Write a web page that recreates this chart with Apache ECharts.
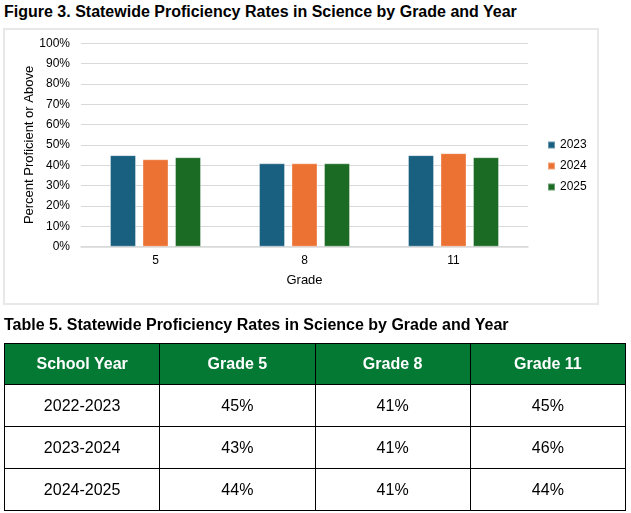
<!DOCTYPE html>
<html>
<head>
<meta charset="utf-8">
<script src="https://cdn.jsdelivr.net/npm/echarts@6/dist/echarts.min.js"></script>
<style>
  html, body { margin: 0; padding: 0; background: #fff; }
  body { width: 631px; height: 513px; position: relative; overflow: hidden; font-family: "Liberation Sans", Arial, sans-serif; }
  .title { position: absolute; left: 4px; font-weight: bold; font-size: 16px; line-height: 20px; color: #000; white-space: nowrap; }
  #box { position: absolute; left: 3px; top: 28px; width: 592px; height: 273px; border: 2px solid #e8e8e8; }
  #chart { position: absolute; left: 0; top: 0; width: 631px; height: 513px; }
  table { position: absolute; left: 4px; top: 343px; width: 622px; border-collapse: collapse; table-layout: fixed; }
  td, th { border: 1.5px solid #000; text-align: center; font-size: 16px; padding: 0; }
  th { background: #037934; color: #fff; font-weight: bold; height: 40px; }
  td { color: #000; height: 41px; }
</style>
</head>
<body>
<div class="title" style="top:2px">Figure 3. Statewide Proficiency Rates in Science by Grade and Year</div>
<div id="box"></div>
<div id="chart"></div>
<div class="title" style="top:315px">Table 5. Statewide Proficiency Rates in Science by Grade and Year</div>
<table id="tbl"></table>
<script>
// ---- data ----
const grades = ['5', '8', '11'];
const years = ['2023', '2024', '2025'];
const values2023 = [45, 41, 45];
const values2024 = [43, 41, 46];
const values2025 = [44, 41, 44];
const schoolYears = ['2022-2023', '2023-2024', '2024-2025'];
const tableHeaders = ['School Year', 'Grade 5', 'Grade 8', 'Grade 11'];
const yAxisName = 'Percent Proficient or Above';
const xAxisName = 'Grade';

const seriesValues = [values2023, values2024, values2025];
const colors = ['#185f80', '#ec7233', '#1b6b25'];

const chart = echarts.init(document.getElementById('chart'), null, { renderer: 'canvas' });
const font = '"Liberation Sans", Arial, sans-serif';
chart.setOption({
  animation: false,
  backgroundColor: 'transparent',
  textStyle: { fontFamily: font },
  grid: { left: 81, right: 103, top: 43.3, bottom: 266.3, containLabel: false },
  legend: {
    orient: 'vertical', left: 547, top: 138, padding: 0,
    itemWidth: 7, itemHeight: 7, itemGap: 7,
    icon: 'rect',
    data: years,
    textStyle: { fontFamily: font, fontSize: 12, color: '#000', lineHeight: 14 }
  },
  xAxis: {
    type: 'category', data: grades,
    name: xAxisName, nameLocation: 'middle', nameGap: 27, nameMoveOverlap: false,
    nameTextStyle: { fontFamily: font, fontSize: 13, color: '#000' },
    axisLine: { lineStyle: { color: '#d9d9d9', width: 1.5 } },
    axisTick: { show: false },
    axisLabel: { fontFamily: font, fontSize: 12, color: '#000', margin: 8 }
  },
  yAxis: {
    type: 'value', min: 0, max: 100, interval: 10,
    name: yAxisName, nameLocation: 'middle', nameGap: 45, nameRotate: 90, nameMoveOverlap: false,
    nameTextStyle: { fontFamily: font, fontSize: 13, color: '#000' },
    axisLine: { show: false }, axisTick: { show: false },
    axisLabel: { fontFamily: font, fontSize: 12, color: '#000', margin: 11, formatter: '{value}%' },
    splitLine: { lineStyle: { color: '#d9d9d9', width: 1 } }
  },
  series: years.map((y, i) => ({
    name: y, type: 'bar', data: seriesValues[i],
    barWidth: 26, barGap: '25%',
    itemStyle: { color: colors[i], borderColor: 'rgba(255,255,255,0.35)', borderWidth: 1 }
  }))
});

// ---- table built from the data arrays ----
const tbl = document.getElementById('tbl');
let html = '<tr>' + tableHeaders.map(h => '<th>' + h + '</th>').join('') + '</tr>';
schoolYears.forEach((sy, r) => {
  html += '<tr><td>' + sy + '</td>' + grades.map((g, c) => '<td>' + seriesValues[r][c] + '%</td>').join('') + '</tr>';
});
tbl.innerHTML = html;
</script>
</body>
</html>
